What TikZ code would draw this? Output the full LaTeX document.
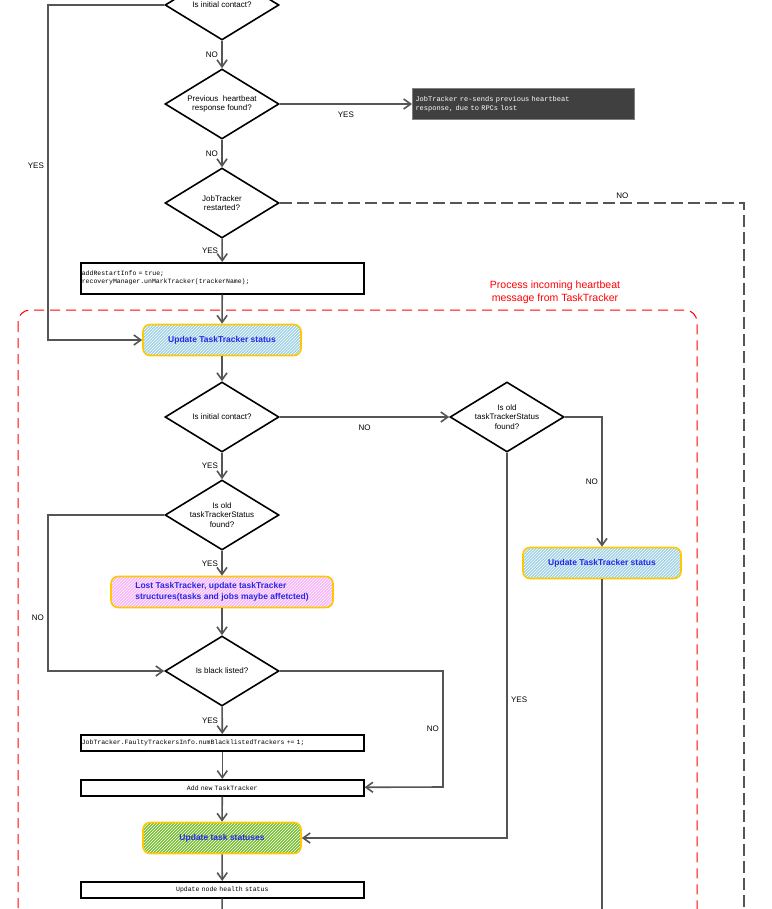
\documentclass[tikz,border=0pt]{standalone}
\usepackage{fontspec}
\setmainfont{Liberation Sans}
\setmonofont{Liberation Mono}
\usetikzlibrary{shapes.geometric,patterns,arrows.meta}
\definecolor{edgegray}{RGB}{85,85,85}
\definecolor{hatchblue}{RGB}{160,210,228}
\definecolor{hatchpink}{RGB}{250,180,250}
\definecolor{hatchgreen}{RGB}{120,190,50}
\definecolor{boxgold}{RGB}{255,200,0}
\definecolor{textblue}{RGB}{40,40,230}
\begin{document}
\begin{tikzpicture}[
                    x=1pt, y=-1pt,
                    >={Straight Barb[length=7pt,width=10pt]},
                    decision/.style={diamond, draw, line width=1.6pt, aspect=1.63, minimum width=114pt, minimum height=70pt, inner sep=0pt, align=center, font=\fontsize{8}{9.5}\selectfont},
                    code/.style={rectangle, draw, line width=1.6pt, anchor=north west, inner sep=1pt, align=left, font=\ttfamily\fontsize{6.5}{8}\selectfont},
                    state/.style={rectangle, rounded corners=7pt, draw=boxgold, line width=1.6pt, minimum height=31pt, inner sep=2pt, align=left, text=textblue, font=\bfseries\fontsize{8.5}{10.5}\selectfont, pattern=north east lines, pattern color=white},
                    flow/.style={->, edgegray, line width=1.6pt},
                    lbl/.style={font=\fontsize{8}{9}\selectfont}
                ]
                \useasboundingbox (0,0) rectangle (771,909);
                \clip (0,0) rectangle (771,909);
                % Frame
                \draw [red, line width=1pt, dash pattern=on 10pt off 6pt, rounded corners=12pt] (18,310) rectangle (697,930);
                \node [red, align=center, font=\fontsize{10.5}{13}\selectfont] (frametitle) at (555,292) {Process incoming heartbeat\\message from TaskTracker};

                % Blocks
                \node [decision] (D0) at (222,5) {Is initial contact?};
                \node [decision] (D1) at (222,104) {Previous\ \ heartbeat\\response found?};
                \node [rectangle, draw=gray, fill=black!75, text=white, text width=215pt, minimum height=31pt, anchor=west, align=left, font=\ttfamily\fontsize{7}{8.5}\selectfont] (resend) at (412,104) {JobTracker re-sends previous heartbeat\\response, due to RPCs lost};
                \node [decision] (D2) at (222,203) {JobTracker\\restarted?};
                \node [code, text width=281pt, minimum height=31pt] (restart) at (80,262) {addRestartInfo = true;\\recoveryManager.unMarkTracker(trackerName);};
                \node [state, preaction={fill=hatchblue}, minimum width=158pt] (upd1) at (222,340) {Update TaskTracker status};
                \node [decision] (D3) at (222,417) {Is initial contact?};
                \node [decision] (D4) at (507,417) {Is old\\taskTrackerStatus\\found?};
                \node [decision] (D5) at (222,515) {Is old\\taskTrackerStatus\\found?};
                \node [state, preaction={fill=hatchpink}, minimum width=222pt] (lost) at (222,592) {Lost TaskTracker, update taskTracker\\structures(tasks and jobs maybe affetcted)};
                \node [decision] (D6) at (222,671) {Is black listed?};
                \node [code, text width=281pt, minimum height=16pt] (faulty) at (80,734) {JobTracker.FaultyTrackersInfo.numBlacklistedTrackers += 1;};
                \node [code, text width=281pt, minimum height=16pt, align=center] (addnew) at (80,779) {Add new TaskTracker};
                \node [state, preaction={fill=hatchgreen}, minimum width=158pt] (tasks) at (222,838) {Update task statuses};
                \node [code, text width=281pt, minimum height=16pt, align=center] (health) at (80,881) {Update node health status};
                \node [state, preaction={fill=hatchblue}, minimum width=158pt] (upd2) at (602,563) {Update TaskTracker status};
                \coordinate (bottom) at (222,915);
                \coordinate (bottomR) at (602,915);
                \coordinate (bottomD) at (744,915);

                % Connections
                \draw [flow] (D0) --node[lbl, black, left]{NO} (D1);
                \draw [flow] (D1) --node[lbl, black, below=4pt, pos=0.5]{YES} (resend);
                \draw [flow] (D1) --node[lbl, black, left]{NO} (D2);
                \draw [flow] (D2) --node[lbl, black, left]{YES} (restart);
                \draw [edgegray, line width=1.6pt, dash pattern=on 12pt off 5pt] (D2.east) -| node[lbl, black, above left, pos=0.38]{NO} (bottomD);
                \draw [flow] (D0.west) -- (48,5) --node[lbl, black, left, pos=0.48]{YES} (48,340) -- (upd1);
                \draw [flow] (restart) -- (upd1);
                \draw [flow] (upd1) -- (D3);
                \draw [flow] (D3) --node[lbl, black, below=4pt]{NO} (D4);
                \draw [flow] (D3) --node[lbl, black, left]{YES} (D5);
                \draw [flow] (D5.west) -- (48,515) --node[lbl, black, left, pos=0.66]{NO} (48,671) -- (D6);
                \draw [flow] (D5) --node[lbl, black, left]{YES} (lost);
                \draw [flow] (lost) -- (D6);
                \draw [flow] (D6.east) -- (443,671) --node[lbl, black, left, pos=0.5]{NO} (443,787) -- (addnew);
                \draw [flow] (D6) --node[lbl, black, left]{YES} (faulty);
                \draw [flow] (faulty) -- (addnew);
                \draw [flow] (addnew) -- (tasks);
                \draw [flow] (tasks) -- (health);
                \draw [edgegray, line width=1.6pt] (health) -- (bottom);
                \draw [flow] (D4.east) -- (602,417) --node[lbl, black, left, pos=0.5]{NO} (upd2);
                \draw [flow] (D4.south) -- (507,838) node[lbl, black, right, pos=0.64]{YES} -- (tasks);
                \draw [edgegray, line width=1.6pt] (upd2) -- (bottomR);
            \end{tikzpicture}
\end{document}
